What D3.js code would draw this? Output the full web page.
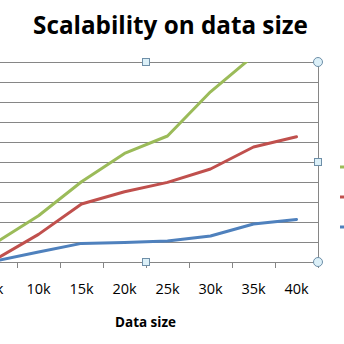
<!DOCTYPE html>
<html><head><meta charset="utf-8">
<script src="https://cdn.jsdelivr.net/npm/d3@7"></script>
<style>html,body{margin:0;padding:0;background:#fff;}svg{display:block;}</style>
</head><body>
<svg id="chart" width="344" height="344"></svg>
<script>
const categories = ["5k","10k","15k","20k","25k","30k","35k","40k"];
const seriesNames = ["Series3","Series2","Series1"];
const greenValues = [96, 231, 401, 543, 630, 851, 1031, 1200];
const redValues = [13, 138, 290, 351, 398, 465, 575, 626];
const blueValues = [5, 50, 93, 98, 105, 130, 190, 213];
const yTicks = [0,100,200,300,400,500,600,700,800,900,1000];
const titleText = "Scalability on data size";
const xTitle = "Data size";

(function(){
const svg = d3.select("#chart");
const pL = -26, pR = 318, pT = 62, pB = 262;
const x = d3.scaleBand().domain(categories).range([pL, pR]).padding(0);
const y = d3.scaleLinear().domain([0, 1000]).range([pB, pT]);

svg.append("rect").attr("width",344).attr("height",344).attr("fill","#fff");

// gridlines
svg.append("g").selectAll("line").data(yTicks).join("line")
  .attr("x1", pL).attr("x2", pR)
  .attr("y1", d => Math.round(y(d)) + 0.5).attr("y2", d => Math.round(y(d)) + 0.5)
  .attr("stroke", "#868686").attr("stroke-width", 1);

// right border
svg.append("line").attr("x1", pR + 0.5).attr("x2", pR + 0.5)
  .attr("y1", pT).attr("y2", pB).attr("stroke", "#868686");

// x axis labels
const xAxis = d3.axisBottom(x).tickSize(0).tickPadding(0);
const gx = svg.append("g").attr("transform", `translate(0,${pB + 0.5})`);
gx.call(xAxis);
gx.select(".domain").remove();
gx.selectAll("text").attr("font-family","'Open Sans', sans-serif").attr("font-size","14.5px")
  .attr("fill","#000").attr("dy", null).attr("y", 31.5);
// category boundary ticks
const boundaries = categories.slice(1).map(c => x(c)).concat([x.range()[1]]);
svg.append("g").selectAll("line").data(boundaries).join("line")
  .attr("x1", d => Math.round(d) + 0.5).attr("x2", d => Math.round(d) + 0.5)
  .attr("y1", pB).attr("y2", pB + 6).attr("stroke", "#868686");

// clip
svg.append("clipPath").attr("id","clip").append("rect")
  .attr("x", pL).attr("y", pT).attr("width", pR - pL).attr("height", pB - pT);

const line = d3.line().x((d,i) => x(categories[i]) + x.bandwidth()/2).y(d => y(d));
const series = [
  {name: seriesNames[0], values: greenValues, color: "#9BBB59"},
  {name: seriesNames[1], values: redValues, color: "#C0504D"},
  {name: seriesNames[2], values: blueValues, color: "#4F81BD"}
];
const gl = svg.append("g").attr("clip-path","url(#clip)");
gl.selectAll("path").data(series).join("path")
  .attr("d", d => line(d.values)).attr("fill","none")
  .attr("stroke", d => d.color).attr("stroke-width", 3)
  .attr("stroke-linejoin","round").attr("stroke-linecap","round");

// legend (cut off at right edge)
const legendY = [167, 197, 227];
svg.append("g").selectAll("line").data(series).join("line")
  .attr("x1", 340).attr("x2", 352)
  .attr("y1", (d,i) => legendY[i]).attr("y2", (d,i) => legendY[i])
  .attr("stroke", d => d.color).attr("stroke-width", 3);

// selection handles
const hs = [[146,62],[146,262],[318,162]];
svg.append("g").selectAll("rect").data(hs).join("rect")
  .attr("x", d => d[0]-3.5).attr("y", d => d[1]-3.5).attr("width",7).attr("height",7)
  .attr("fill","#dcf0f8").attr("stroke","#6e8fa8").attr("stroke-width",1);
const hc = [[318,62],[318,262]];
svg.append("g").selectAll("circle").data(hc).join("circle")
  .attr("cx", d => d[0]).attr("cy", d => d[1]).attr("r",4.5)
  .attr("fill","#dcf0f8").attr("stroke","#6e8fa8").attr("stroke-width",1);

// title
const t = svg.append("text").text(titleText)
  .attr("x", 170.5).attr("y", 34).attr("text-anchor","middle")
  .attr("font-family","'Open Sans', sans-serif").attr("font-weight","bold")
  .attr("font-size", 24).attr("fill","#000");
const tw = t.node().getComputedTextLength();
t.attr("font-size", 24 * 275 / tw);

const xt = svg.append("text").text(xTitle)
  .attr("x", 145.5).attr("y", 326.5).attr("text-anchor","middle")
  .attr("font-family","'Open Sans', sans-serif").attr("font-weight","bold")
  .attr("font-size", 14).attr("fill","#000");
const xw = xt.node().getComputedTextLength();
xt.attr("font-size", 14 * 61 / xw);
})();
</script>
</body></html>
